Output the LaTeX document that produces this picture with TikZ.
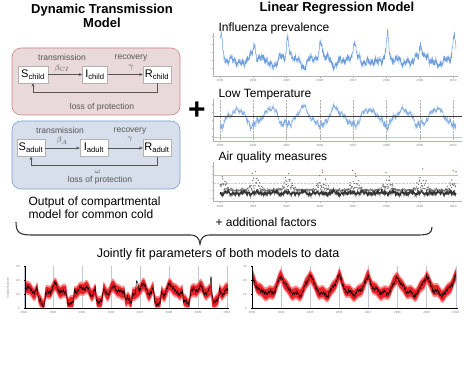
\documentclass[tikz,border=0pt]{standalone}
\usepackage{fontspec}
\setmainfont{Liberation Sans}
\usepackage{xcolor}
\usetikzlibrary{arrows.meta,calc,positioning}
\definecolor{childfill}{RGB}{233,217,219}
\definecolor{childline}{RGB}{214,128,130}
\definecolor{adultfill}{RGB}{214,223,235}
\definecolor{adultline}{RGB}{118,158,208}
\definecolor{flublue}{RGB}{108,158,220}
\definecolor{fitred}{RGB}{234,32,40}
\definecolor{txtgray}{RGB}{85,85,85}
\definecolor{gridblue}{RGB}{190,200,215}
\tikzset{
  declare function={
    jit(\t)=sin(mod(\t,11.3)*1237)+0.7*sin(mod(\t,7.7)*1931)+0.5*sin(mod(\t,5.3)*2713);
    sm(\t)=sin(37*(\t-200))+0.6*sin(23*(\t-200)+50)+0.4*sin(13*(\t-200)+10);
    fdd(\t)=frac((\t-220)/33.3+0.47)-0.5;
    famp(\t)=1+0.3*sin(151*floor((\t-220)/33.3+0.47)+100);
    flu(\t)=3+7*(1-2*abs(fdd(\t)))+13*famp(\t)*exp(0-(fdd(\t)/0.05)^2)+1.5*sm(\t)+2.2*jit(\t);
    tcs(\t)=cos(10.8108*(\t-220));
    temp(\t)=117+8*tcs(\t)+1.5*sm(\t)+(1.8+1.2*max(0,tcs(\t)))*jit(\t);
    adist(\t)=frac((\t-220)/33.3+0.45)-0.5;
    aw(\t)=exp(0-(adist(\t)/0.15)^2);
    airpt(\t)=191-26*aw(\t)*(0.5+0.22*jit(1.37*\t+5))^2-3*(0.5+0.22*jit(2.1*\t))^2;
    hd(\t)=frac((\t-24)/29);
    htr(\t)=max(0,1-(abs(hd(\t)-0.6)/0.14)^4);
    hosp(\t)=max(1,13+2.5*sin(720*hd(\t)+30)-11*htr(\t)+1.2*sm(1.2*\t));
    spike(\t,\c)=exp(0-(min(abs(\t-\c),20)/1.2)^2);
    rs(\t)=frac((\t-252)/29.1+0.5)-0.5;
    resp(\t)=10+13*(1-2*abs(rs(\t)))^2+1.0*sm(1.1*\t+3);
  },
  title/.style={font=\bfseries\fontsize{13}{14}\selectfont, align=center},
  heading/.style={font=\fontsize{12}{13}\selectfont, anchor=west},
  modelbox/.style={rounded corners=9pt, line width=0.6pt},
  comp/.style={
    draw=gray!60,
    fill=white,
    inner sep=1.5pt,
    minimum height=17pt,
    font=\fontsize{11}{12}\selectfont
  },
  flow/.style={-{Stealth[length=3.5pt,width=3pt]}, draw=txtgray, line width=0.5pt},
  boxlabel/.style={text=txtgray, font=\fontsize{8.5}{9}\selectfont},
  ratelabel/.style={text=txtgray, font=\fontsize{8.5}{9}\selectfont},
  yrlabel/.style={text=gray, font=\fontsize{3}{3}\selectfont},
  axisline/.style={draw=gray!60, line width=0.3pt},
  yeargrid/.style={draw=gray!60, line width=0.4pt, densely dotted}
}
\begin{document}
\begin{tikzpicture}[x=1pt,y=-1pt]
  \useasboundingbox (0,0) rectangle (474,366);

  \node[title] (dyntitle) at (102,16) {Dynamic Transmission\\Model};
  \node[title] (lintitle) at (337,8) {Linear Regression Model};

  % child compartments
  \draw[modelbox, draw=childline, fill=childfill] (12,48) rectangle (180,115);
  \node[comp, minimum width=30pt] (Sc) at (33,74.5) {S\textsubscript{child}};
  \node[comp, minimum width=25pt] (Ic) at (95,74.5) {I\textsubscript{child}};
  \node[comp, minimum width=28pt] (Rc) at (157,74.5) {R\textsubscript{child}};
  \draw[flow] (Sc) -- (Ic);
  \draw[flow] (Ic) -- (Rc);
  \draw[flow] (Rc.south) -- ++(0,9) -| (Sc.south);
  \node[boxlabel] (trc) at (62,57) {transmission};
  \node[ratelabel] (betac) at (62,68.5) {$\beta_{CI}$};
  \node[boxlabel] (rec) at (131,58) {recovery};
  \node[ratelabel] (gammac) at (131,67.5) {$\gamma$};
  \node[boxlabel] (lossc) at (102,107) {loss of protection};

  % adult compartments
  \draw[modelbox, draw=adultline, fill=adultfill] (12,121) rectangle (180,189);
  \node[comp, minimum width=27pt] (Sa) at (31,148) {S\textsubscript{adult}};
  \node[comp, minimum width=28pt] (Ia) at (94,148) {I\textsubscript{adult}};
  \node[comp, minimum width=28pt] (Ra) at (157,148) {R\textsubscript{adult}};
  \draw[flow] (Sa) -- (Ia);
  \draw[flow] (Ia) -- (Ra);
  \draw[flow] (Ra.south) -- ++(0,8.5) -| (Sa.south);
  \node[boxlabel] (tra) at (60,130) {transmission};
  \node[ratelabel] (betaa) at (62,141) {$\beta_{A}$};
  \node[boxlabel] (rea) at (130,131) {recovery};
  \node[ratelabel] (gammaa) at (130,140) {$\gamma$};
  \node[ratelabel] (omegaa) at (98,172) {$\omega$};
  \node[boxlabel] (lossa) at (100,180.5) {loss of protection};

  \node[heading, align=left] (output) at (25,207.5) {Output of compartmental\\model for common cold};
  \node[font=\bfseries\fontsize{30}{30}\selectfont] (plus) at (197,111) {+};

  % influenza prevalence
  \node[heading] (fluhead) at (215,28) {Influenza prevalence};
  \draw[axisline] (213,33) -- (213,76) -- (458,76);
  \foreach \yy in {36,44,...,72} \draw[axisline] (213,\yy) -- ++(-1.5,0);
  \draw[flublue, line width=0.5pt] plot[domain=220:456, samples=600] (\x,{68-1.25*flu(\x)});
  \foreach \yr [count=\i from 0] in {2003,2004,...,2010} {
    \draw[axisline] ({220+33.3*\i},76) -- ++(0,2);
    \node[yrlabel] (fluyr\i) at ({220+33.3*\i},80.5) {\yr};
  }

  % low temperature
  \node[heading] (temphead) at (215,95) {Low Temperature};
  \draw[axisline] (213,99) -- (213,141) -- (462,141);
  \foreach \yy in {104,112,...,136} \draw[axisline] (213,\yy) -- ++(-1.5,0);
  \draw[red!30, line width=0.4pt] (214,137) -- (462,137);
  \foreach \yr [count=\i from 0] in {2003,2004,...,2010} {
    \draw[yeargrid] ({220+33.3*\i},100) -- ({220+33.3*\i},141);
    \node[yrlabel] (tempyr\i) at ({220+33.3*\i},145) {\yr};
  }
  \draw[flublue!85, line width=0.45pt] plot[domain=220:456, samples=600] (\x,{temp(\x)});
  \draw[black!75, line width=1pt] (214,117) -- (462,117);

  % air quality
  \node[heading] (airhead) at (215,157) {Air quality measures};
  \draw[axisline] (213,162) -- (213,201) -- (462,201);
  \foreach \yy in {166,174,...,198} \draw[axisline] (213,\yy) -- ++(-1.5,0);
  \draw[red!35, line width=0.4pt] (214,175) -- (458,175);
  \draw[gray!40, line width=0.4pt, densely dotted] (214,183) -- (458,183);
  \fill[black!55] plot[only marks, mark=*, mark size=0.4pt, domain=220:456, samples=520] (\x,{airpt(\x)});
  \draw[black!80, line width=0.8pt] plot[domain=220:456, samples=600] (\x,{193+1.3*jit(\x)+0.6*sm(\x)});
  \foreach \yr [count=\i from 0] in {2003,2004,...,2010} {
    \draw[axisline] ({220+33.3*\i},201) -- ++(0,2);
    \node[yrlabel] (airyr\i) at ({220+33.3*\i},206.5) {\yr};
  }
  \node[heading] (addfact) at (212,222) {+ additional factors};

  % brace
  \coordinate (braceL) at (16,222);
  \coordinate (braceTip) at (200,244);
  \coordinate (braceR) at (432,227);
  \draw[black!80, line width=1.1pt] (braceL) .. controls (16,233) and (20,235) .. (32,235)
    -- (190,235) .. controls (197,235) and (199,238) .. (braceTip)
    .. controls (201,238) and (203,235) .. (210,235) -- (418,235)
    .. controls (429,235) and (432,233) .. (braceR);
  \node[font=\fontsize{12.5}{13}\selectfont] (jointfit) at (218,254) {Jointly fit parameters of both models to data};

  % fit, left
  \foreach \yr [count=\i from 0] in {2003,2004,...,2010} {
    \draw[gridblue, line width=0.4pt] ({24+29*\i},266) -- ({24+29*\i},308);
    \node[yrlabel] (hospyr\i) at ({24+29*\i},312.5) {\yr};
  }
  \fill[red!45] plot[domain=25:228, samples=400] (\x,{308-1.4*(hosp(\x)+5)})
    -- plot[domain=228:25, samples=400] (\x,{308-1.4*max(0.3,hosp(\x)-5)}) -- cycle;
  \fill[fitred] plot[domain=25:228, samples=400] (\x,{308-1.4*(hosp(\x)+3.5)})
    -- plot[domain=228:25, samples=400] (\x,{308-1.4*max(0.6,hosp(\x)-3.5)}) -- cycle;
  \draw[black, line width=0.5pt] plot[domain=25:228, samples=500]
    (\x,{308-1.4*max(0.5,hosp(\x)+1.1*jit(2.3*\x+7)+10*spike(\x,137)+9*spike(\x,211))});
  \draw[black, line width=0.5pt] (25,266) -- (25,308) -- (229,308);
  \foreach \v [count=\j from 0] in {0,10,20,30} {
    \draw[black, line width=0.4pt] (25,{308-14*\j}) -- ++(-1.5,0);
    \node[yrlabel, anchor=east] (hospv\j) at (23,{308-14*\j}) {\v};
  }
  \node[yrlabel, rotate=90] (hosplab) at (8,288) {hospitalisations};

  % fit, right
  \foreach \yr [count=\i from 0] in {2003,2004,...,2010} {
    \draw[gridblue, line width=0.4pt] ({252+29.1*\i},266) -- ({252+29.1*\i},308);
    \node[yrlabel] (respyr\i) at ({252+29.1*\i},312.5) {\yr};
  }
  \fill[red!45] plot[domain=253:456, samples=400] (\x,{308-1.4*(resp(\x)+5)})
    -- plot[domain=456:253, samples=400] (\x,{308-1.4*(resp(\x)-5)}) -- cycle;
  \fill[fitred] plot[domain=253:456, samples=400] (\x,{308-1.4*(resp(\x)+3.5)})
    -- plot[domain=456:253, samples=400] (\x,{308-1.4*(resp(\x)-3.5)}) -- cycle;
  \draw[black, line width=0.5pt] plot[domain=253:456, samples=500]
    (\x,{308-1.4*(resp(\x)+1.1*jit(2.3*\x+7))});
  \draw[black, line width=0.5pt] (252,266) -- (252,308) -- (458,308);
  \foreach \v [count=\j from 0] in {0,10,20,30} {
    \draw[black, line width=0.4pt] (252,{308-14*\j}) -- ++(-1.5,0);
    \node[yrlabel, anchor=east] (respv\j) at (250,{308-14*\j}) {\v};
  }
\end{tikzpicture}
\end{document}
